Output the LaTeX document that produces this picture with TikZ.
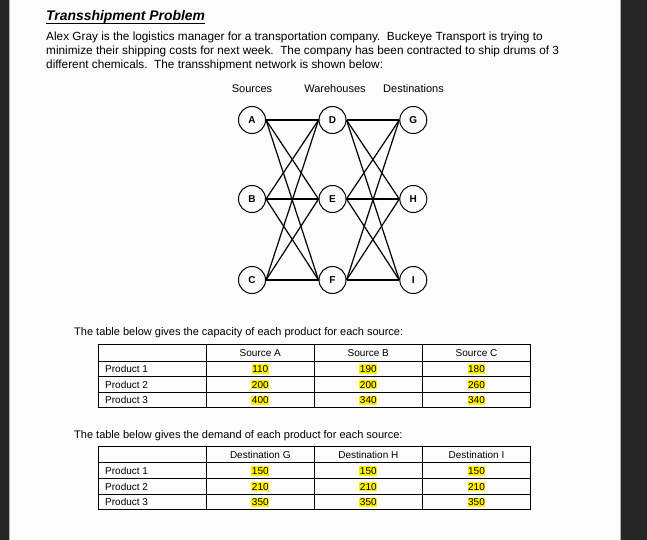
\documentclass[tikz,border=0pt]{standalone}
\usepackage{fontspec}
\setmainfont{Liberation Sans}
\begin{document}
\begin{tikzpicture}[x=1pt,y=-1pt,
  body/.style={anchor=base west,inner sep=0pt,font=\fontsize{11.8}{13}\selectfont},
  intro/.style={anchor=base west,inner sep=0pt,font=\fontsize{11}{13}\selectfont},
  head/.style={anchor=base,inner sep=0pt,font=\fontsize{11}{13}\selectfont},
  vert/.style={circle,draw,line width=1pt,minimum size=27pt,inner sep=0pt,font=\fontsize{10}{12}\bfseries},
  edge/.style={line width=1.2pt},
  cell/.style={anchor=base,inner sep=0pt,font=\fontsize{10}{12}\selectfont},
  rowlab/.style={anchor=base west,inner sep=0pt,font=\fontsize{10}{12}\selectfont},
  hl/.style={anchor=base,inner xsep=0.6pt,inner ysep=1pt,fill=yellow,font=\fontsize{10}{12}\selectfont},
  grid/.style={line width=0.9pt}]
\useasboundingbox (0,0) rectangle (647,540);
\fill[white!99!black] (0,0) rectangle (647,540);
\fill[black!85] (0,0) rectangle (9,540);
\fill[black!30] (9,0) rectangle (10,540);
\fill[black!85] (621,0) rectangle (647,540);
\fill[black!30] (620,0) rectangle (621,540);
% title and text
\node[anchor=base west,inner sep=0pt,font=\fontsize{13.9}{16}\bfseries\itshape] (title) at (46,21) {Transshipment Problem};
\draw[line width=1.1pt] ([yshift=-2.2pt]title.base west) -- ([yshift=-2.2pt]title.base east);
\node[body] (l1) at (46,41) {Alex Gray is the logistics manager for a transportation company.\ \ Buckeye Transport is trying to};
\node[body] (l2) at (46,55) {minimize their shipping costs for next week.\ \ The company has been contracted to ship drums of 3};
\node[body] (l3) at (46,69) {different chemicals.\ \ The transshipment network is shown below:};
\node[head] (hs) at (252,93) {Sources};
\node[head] (hw) at (335,93) {Warehouses};
\node[head] (hd) at (413.5,93) {Destinations};
% network
\node[vert] (A) at (252,120) {A};
\node[vert] (B) at (252,199) {B};
\node[vert] (C) at (252,280) {C};
\node[vert] (D) at (332.5,120) {D};
\node[vert] (E) at (332.5,199) {E};
\node[vert] (F) at (332.5,280) {F};
\node[vert] (G) at (413.3,120) {G};
\node[vert] (H) at (413.3,199) {H};
\node[vert] (I) at (413.3,280) {I};
\foreach \s in {A,B,C}{\foreach \t in {D,E,F}{\draw[edge] (\s.east) -- (\t.west);}}
\foreach \s in {D,E,F}{\foreach \t in {G,H,I}{\draw[edge] (\s.east) -- (\t.west);}}
% table 1
\node[intro] (t1) at (74,335) {The table below gives the capacity of each product for each source:};
\draw[grid] (98.3,344.3) rectangle (530.7,407.7);
\foreach \yy in {361,376.7,392.3}{\draw[grid] (98.3,\yy) -- (530.7,\yy);}
\foreach \xx in {206.3,314.3,422.3}{\draw[grid] (\xx,344.3) -- (\xx,407.7);}
\node[cell] (h1a) at (260.3,356.2) {Source A};
\node[cell] (h1b) at (368.3,356.2) {Source B};
\node[cell] (h1c) at (476.5,356.2) {Source C};
\node[rowlab] (p11) at (105,372.4) {Product 1};
\node[rowlab] (p12) at (105,388) {Product 2};
\node[rowlab] (p13) at (105,403.6) {Product 3};
\node[hl] (a1) at (260.3,372.4) {110};
\node[hl] (a2) at (260.3,388) {200};
\node[hl] (a3) at (260.3,403.6) {400};
\node[hl] (b1) at (368.3,372.4) {190};
\node[hl] (b2) at (368.3,388) {200};
\node[hl] (b3) at (368.3,403.6) {340};
\node[hl] (c1) at (476.5,372.4) {180};
\node[hl] (c2) at (476.5,388) {260};
\node[hl] (c3) at (476.5,403.6) {340};
% table 2
\node[intro] (t2) at (74,438) {The table below gives the demand of each product for each source:};
\draw[grid] (98.3,446.7) rectangle (530.7,509.3);
\foreach \yy in {462.3,478.3,494}{\draw[grid] (98.3,\yy) -- (530.7,\yy);}
\foreach \xx in {206.3,314.3,422.3}{\draw[grid] (\xx,446.7) -- (\xx,509.3);}
\node[cell] (h2g) at (260.3,458) {Destination G};
\node[cell] (h2h) at (368.3,458) {Destination H};
\node[cell] (h2i) at (476.5,458) {Destination I};
\node[rowlab] (p21) at (105,474.4) {Product 1};
\node[rowlab] (p22) at (105,490) {Product 2};
\node[rowlab] (p23) at (105,505.6) {Product 3};
\node[hl] (g1) at (260.3,474.4) {150};
\node[hl] (g2) at (260.3,490) {210};
\node[hl] (g3) at (260.3,505.6) {350};
\node[hl] (hh1) at (368.3,474.4) {150};
\node[hl] (hh2) at (368.3,490) {210};
\node[hl] (hh3) at (368.3,505.6) {350};
\node[hl] (i1) at (476.5,474.4) {150};
\node[hl] (i2) at (476.5,490) {210};
\node[hl] (i3) at (476.5,505.6) {350};
\end{tikzpicture}
\end{document}
